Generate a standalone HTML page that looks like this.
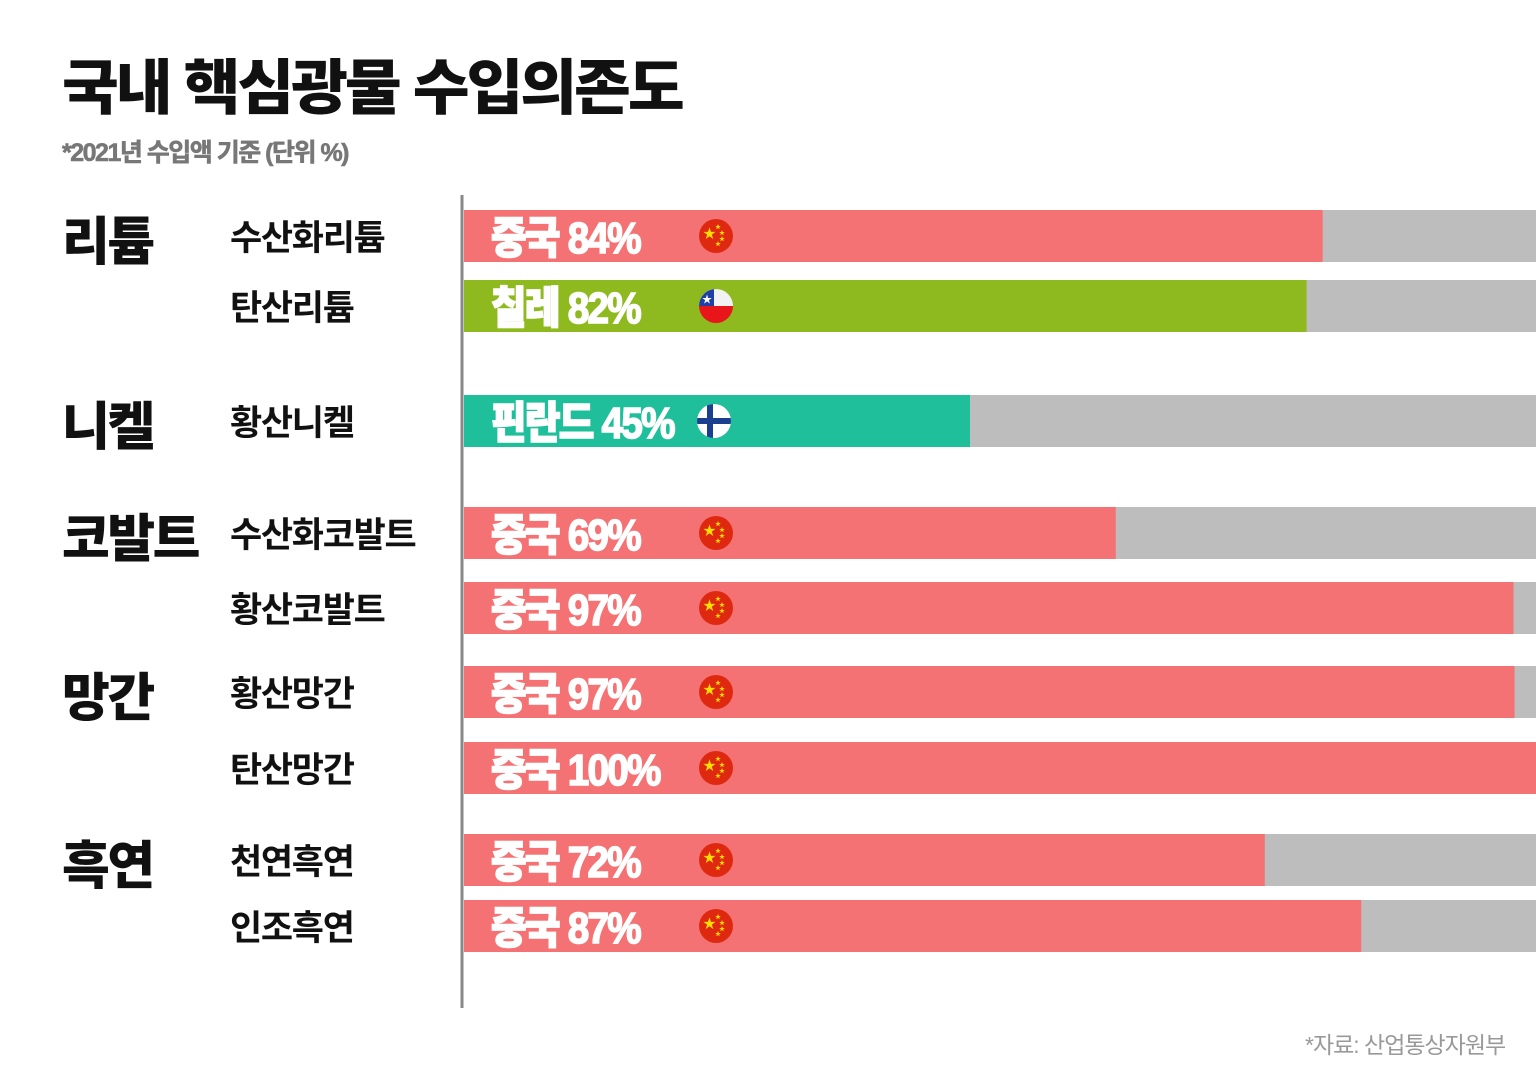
<!DOCTYPE html>
<html><head><meta charset="utf-8"><style>
body{margin:0;width:1536px;height:1074px;background:#fff;position:relative;overflow:hidden;font-family:"Liberation Sans","Noto Sans CJK KR",sans-serif;}
.t{position:absolute;white-space:nowrap;}
</style></head><body>
<div class="t" style="left:62px;top:40px;font-size:60px;font-weight:900;color:#111;letter-spacing:-3px;transform:scaleX(1.03);transform-origin:left;">국내 핵심광물 수입의존도</div>
<div class="t" style="left:62px;top:133px;font-size:25px;font-weight:700;color:#777;letter-spacing:-1.5px;-webkit-text-stroke:0.6px #777;">*2021년 수입액 기준 (단위 %)</div>
<div class="t" style="left:1305px;top:1026px;font-size:23px;color:#999;letter-spacing:-1px;">*자료: 산업통상자원부</div>
<svg id="chart" width="1536" height="1074" style="position:absolute;left:0;top:0"></svg>
<script>
const groups=["리튬","니켈","코발트","망간","흑연"];
const groupRow=[0,2,3,5,7];
const items=["수산화리튬","탄산리튬","황산니켈","수산화코발트","황산코발트","황산망간","탄산망간","천연흑연","인조흑연"];
const countries=["중국","칠레","핀란드","중국","중국","중국","중국","중국","중국"];
const labels=[84,82,45,69,97,97,100,72,87];
const barValues=[80.1,78.6,47.2,60.8,97.9,98,100,74.7,83.7];
const rowY=[210,280,395,507,582,666,742,834,900];
const NS="http://www.w3.org/2000/svg";
const svg=document.getElementById('chart');
const x0=464,W=1072,H=52;
const xs=v=>x0+v/100*W;
const colorOf=c=>c==="칠레"?"#8fba1f":c==="핀란드"?"#1fbf9b":"#f47273";
function mk(tag,attrs){const e=document.createElementNS(NS,tag);for(const k in attrs)e.setAttribute(k,attrs[k]);svg.appendChild(e);return e;}
labels.forEach((l,i)=>{
  const y=rowY[i];
  const bg=mk('rect',{x:x0,y:y,width:W,height:H,fill:'#bdbdbd'});
  
  
  const b=mk('rect',{x:x0,y:y,width:xs(barValues[i])-x0,height:H,fill:colorOf(countries[i])});
  
  
  const t=mk('text',{x:0,y:0,transform:`translate(491,${y+43}) scale(0.88,1)`,fill:'#fff',stroke:'#fff','stroke-width':1.6,'font-size':44,'font-weight':900,'letter-spacing':-2,'font-family':'"Liberation Sans","Noto Sans CJK KR",sans-serif'});
  t.textContent=countries[i]+" "+l+"%";
  
  
  const fx=countries[i]==="핀란드"?714:716, cy=y+26;
  const g=document.createElementNS(NS,'g');svg.appendChild(g);
  
  
  const cid='c'+i;
  g.innerHTML=`<clipPath id="${cid}"><circle cx="${fx}" cy="${cy}" r="17"/></clipPath>`+
  (countries[i]==="중국"?`<circle cx="${fx}" cy="${cy}" r="17" fill="#de2910"/><text x="${fx-13}" y="${cy+2}" font-size="13" fill="#ffde00">★</text><text x="${fx-1}" y="${cy-7}" font-size="6" fill="#ffde00">★</text><text x="${fx+3}" y="${cy-1}" font-size="6" fill="#ffde00">★</text><text x="${fx+3}" y="${cy+5}" font-size="6" fill="#ffde00">★</text><text x="${fx-1}" y="${cy+10}" font-size="6" fill="#ffde00">★</text>`:
   countries[i]==="칠레"?`<g clip-path="url(#${cid})"><rect x="${fx-17}" y="${cy-17}" width="34" height="17" fill="#f2f2f2"/><rect x="${fx-17}" y="${cy}" width="34" height="17" fill="#e8151b"/><rect x="${fx-17}" y="${cy-17}" width="15" height="17" fill="#1f3fa8"/></g><text x="${fx-14}" y="${cy-3}" font-size="10" fill="#fff">★</text>`:
   `<g clip-path="url(#${cid})"><rect x="${fx-17}" y="${cy-17}" width="34" height="34" fill="#fff"/><rect x="${fx-17}" y="${cy-3}" width="34" height="6" fill="#1a3f8f"/><rect x="${fx-7}" y="${cy-17}" width="6" height="34" fill="#1a3f8f"/></g>`);
  const s=mk('text',{x:230,y:y+40,fill:'#111','font-size':35,'font-weight':700,'letter-spacing':-1.3,'font-family':'"Liberation Sans","Noto Sans CJK KR",sans-serif'});
  s.textContent=items[i];
  
  
});
groups.forEach((g,j)=>{
  const y=rowY[groupRow[j]];
  const t=mk('text',{x:62,y:y+50,fill:'#111','font-size':52,'font-weight':900,'letter-spacing':-2.5,'font-family':'"Liberation Sans","Noto Sans CJK KR",sans-serif'});
  t.textContent=g;
  
  
});
const ax=mk('line',{x1:462,y1:195,x2:462,y2:1008,stroke:'#888','stroke-width':3});


</script>
</body></html>
